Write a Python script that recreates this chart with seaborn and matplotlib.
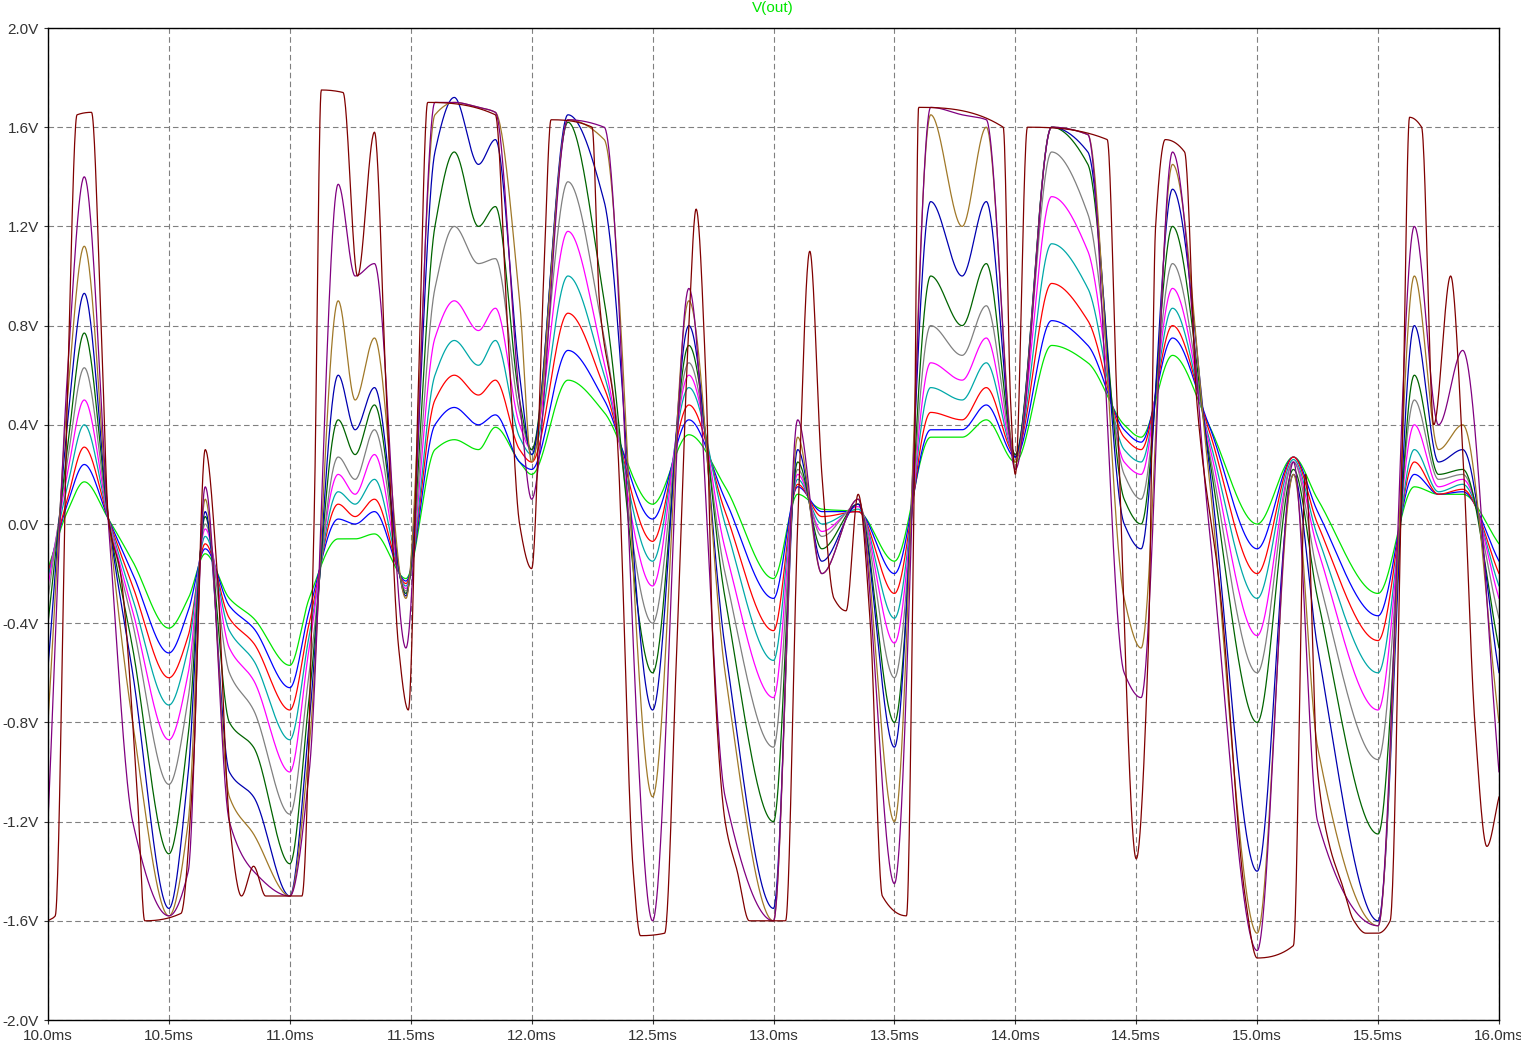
import numpy as np
import pandas as pd
import matplotlib
matplotlib.use("Agg")
import matplotlib.pyplot as plt
import seaborn as sns
from matplotlib.ticker import FuncFormatter

T = [10.0,10.08,10.15,10.25,10.35,10.5,10.58,10.65,10.75,10.85,11.0,11.08,11.2,11.27,11.35,11.48,11.6,11.68,11.78,11.85,11.95,12.0,12.15,12.3,12.5,12.65,12.8,13.0,13.1,13.2,13.35,13.5,13.65,13.78,13.88,14.0,14.15,14.3,14.45,14.52,14.65,14.8,15.0,15.15,15.25,15.5,15.65,15.75,15.85,16.0]

green   = [-0.18,0.05,0.17,0.02,-0.15,-0.42,-0.30,-0.12,-0.30,-0.38,-0.57,-0.30,-0.06,-0.06,-0.04,-0.22,0.30,0.34,0.30,0.39,0.25,0.20,0.58,0.45,0.08,0.36,0.15,-0.22,0.12,0.06,0.05,-0.15,0.35,0.35,0.42,0.25,0.72,0.65,0.40,0.35,0.68,0.40,0.00,0.27,0.10,-0.28,0.15,0.12,0.12,-0.08]
blue1   = [-0.20,0.08,0.24,0.02,-0.20,-0.52,-0.35,-0.10,-0.33,-0.42,-0.66,-0.35,0.02,0.00,0.05,-0.23,0.40,0.47,0.40,0.44,0.25,0.22,0.70,0.50,0.02,0.42,0.10,-0.30,0.15,0.05,0.05,-0.20,0.38,0.38,0.48,0.27,0.82,0.72,0.38,0.33,0.75,0.40,-0.10,0.27,0.05,-0.37,0.20,0.12,0.13,-0.15]
red     = [-0.20,0.10,0.31,0.02,-0.25,-0.62,-0.45,-0.08,-0.38,-0.48,-0.75,-0.40,0.08,0.03,0.10,-0.24,0.50,0.60,0.52,0.58,0.30,0.25,0.85,0.55,-0.07,0.48,0.05,-0.43,0.16,0.03,0.05,-0.28,0.45,0.42,0.55,0.28,0.97,0.82,0.35,0.30,0.80,0.38,-0.20,0.27,0.00,-0.47,0.25,0.12,0.14,-0.20]
cyan    = [-0.22,0.15,0.40,0.02,-0.30,-0.73,-0.50,-0.05,-0.43,-0.55,-0.87,-0.45,0.13,0.08,0.18,-0.25,0.60,0.74,0.64,0.74,0.35,0.28,1.00,0.60,-0.15,0.55,0.00,-0.55,0.18,0.00,0.06,-0.38,0.55,0.50,0.65,0.28,1.13,0.95,0.30,0.25,0.87,0.35,-0.30,0.26,-0.05,-0.60,0.30,0.13,0.16,-0.25]
magenta = [-0.25,0.20,0.50,0.02,-0.35,-0.87,-0.60,-0.02,-0.50,-0.63,-1.00,-0.50,0.20,0.12,0.28,-0.26,0.75,0.90,0.78,0.87,0.40,0.30,1.18,0.65,-0.25,0.60,-0.10,-0.70,0.20,-0.03,0.07,-0.48,0.65,0.58,0.75,0.28,1.32,1.10,0.25,0.20,0.95,0.33,-0.45,0.25,-0.10,-0.75,0.40,0.15,0.18,-0.30]
gray    = [-0.30,0.25,0.63,0.02,-0.40,-1.05,-0.70,0.00,-0.60,-0.75,-1.17,-0.60,0.27,0.18,0.38,-0.27,0.95,1.20,1.05,1.07,0.45,0.30,1.38,0.75,-0.40,0.65,-0.20,-0.90,0.22,-0.05,0.08,-0.62,0.80,0.68,0.88,0.28,1.50,1.25,0.20,0.10,1.05,0.30,-0.60,0.25,-0.20,-0.95,0.50,0.18,0.20,-0.38]
dkgreen = [-0.40,0.30,0.77,0.02,-0.50,-1.33,-0.85,0.03,-0.80,-0.90,-1.37,-0.70,0.42,0.28,0.48,-0.28,1.20,1.50,1.20,1.28,0.50,0.30,1.62,0.90,-0.60,0.72,-0.30,-1.20,0.25,-0.10,0.08,-0.80,1.00,0.80,1.05,0.28,1.60,1.45,0.10,0.00,1.20,0.28,-0.80,0.22,-0.30,-1.25,0.60,0.20,0.22,-0.50]
blue2   = [-0.58,0.40,0.93,0.02,-0.60,-1.55,-1.00,0.05,-1.00,-1.10,-1.50,-0.80,0.60,0.38,0.55,-0.29,1.50,1.72,1.45,1.55,0.60,0.28,1.65,1.30,-0.75,0.80,-0.50,-1.55,0.30,-0.15,0.08,-0.90,1.30,1.00,1.30,0.27,1.60,1.50,0.00,-0.10,1.35,0.25,-1.40,0.20,-0.50,-1.60,0.80,0.25,0.30,-0.60]
olive   = [-0.80,0.50,1.12,0.02,-0.80,-1.58,-1.20,0.10,-1.10,-1.25,-1.50,-0.90,0.90,0.50,0.75,-0.30,1.65,1.70,1.68,1.66,0.90,0.25,1.63,1.55,-1.10,0.90,-0.60,-1.60,0.35,-0.20,0.10,-1.20,1.65,1.20,1.60,0.25,1.60,1.57,-0.30,-0.50,1.45,0.20,-1.65,0.20,-0.90,-1.62,1.00,0.30,0.40,-0.80]
purple  = [-1.20,0.60,1.40,0.00,-1.20,-1.58,-1.40,0.15,-1.20,-1.40,-1.50,-1.00,1.37,1.00,1.05,-0.50,1.70,1.70,1.68,1.66,0.50,0.10,1.63,1.60,-1.60,0.95,-1.10,-1.60,0.42,-0.20,0.10,-1.45,1.68,1.65,1.63,0.22,1.60,1.57,-0.60,-0.70,1.50,0.00,-1.72,0.25,-1.20,-1.62,1.20,0.40,0.70,-1.00]

maroon_t = [10.0,10.03,10.08,10.12,10.18,10.22,10.25,10.3,10.37,10.4,10.55,10.6,10.65,10.7,10.75,10.8,10.85,10.9,11.05,11.1,11.13,11.22,11.28,11.35,11.4,11.45,11.49,11.53,11.57,11.85,11.9,11.95,12.0,12.05,12.08,12.25,12.28,12.35,12.42,12.45,12.55,12.6,12.65,12.68,12.72,12.75,12.8,12.85,12.9,13.05,13.1,13.15,13.2,13.25,13.3,13.35,13.4,13.45,13.55,13.58,13.6,13.95,13.98,14.0,14.05,14.38,14.42,14.5,14.55,14.58,14.62,14.7,14.75,14.85,14.95,15.0,15.15,15.2,15.25,15.3,15.35,15.4,15.45,15.5,15.55,15.6,15.63,15.68,15.73,15.8,15.85,15.9,15.95,16.0]
maroon_v = [-1.6,-1.58,0.5,1.65,1.66,0.8,0.02,-0.2,-1.1,-1.6,-1.57,-1.0,0.3,-0.2,-1.2,-1.5,-1.38,-1.5,-1.5,0.0,1.75,1.74,1.0,1.58,0.5,-0.5,-0.75,0.5,1.7,1.65,0.8,0.0,-0.18,1.0,1.63,1.6,0.9,0.4,-1.4,-1.66,-1.65,-0.5,0.8,1.27,0.6,-0.5,-1.2,-1.4,-1.6,-1.6,0.0,1.1,0.2,-0.3,-0.35,0.12,-0.4,-1.5,-1.58,0.0,1.68,1.6,0.5,0.2,1.6,1.55,0.5,-1.35,-0.5,1.2,1.55,1.5,0.5,-0.3,-1.5,-1.75,-1.7,0.2,-1.0,-1.3,-1.45,-1.6,-1.65,-1.65,-1.6,0.3,1.64,1.6,0.4,1.0,0.3,-0.8,-1.3,-1.1]

series = [("green", green, "#00e600"), ("blue1", blue1, "#0000ff"), ("red", red, "#ff0000"),
          ("cyan", cyan, "#00a8a8"), ("magenta", magenta, "#ff00ff"), ("gray", gray, "#808080"),
          ("dkgreen", dkgreen, "#006400"), ("blue2", blue2, "#0000b0"), ("olive", olive, "#a07828"),
          ("purple", purple, "#800080")]

def pchip(x, y, xn):
    x = np.asarray(x, float); y = np.asarray(y, float)
    h = np.diff(x); d = np.diff(y) / h
    m = np.zeros_like(y)
    for k in range(1, len(y) - 1):
        if d[k-1] * d[k] > 0:
            w1 = 2*h[k] + h[k-1]; w2 = h[k] + 2*h[k-1]
            m[k] = (w1 + w2) / (w1/d[k-1] + w2/d[k])
    m[0] = d[0]; m[-1] = d[-1]
    i = np.clip(np.searchsorted(x, xn) - 1, 0, len(x) - 2)
    t = (xn - x[i]) / h[i]
    h00 = 2*t**3 - 3*t**2 + 1; h10 = t**3 - 2*t**2 + t
    h01 = -2*t**3 + 3*t**2; h11 = t**3 - t**2
    return h00*y[i] + h10*h[i]*m[i] + h01*y[i+1] + h11*h[i]*m[i+1]

xs = np.linspace(10, 16, 3000)
frames = []
for name, vals, c in series:
    frames.append(pd.DataFrame({"t": xs, "v": pchip(T, vals, xs), "s": name}))
frames.append(pd.DataFrame({"t": xs, "v": pchip(maroon_t, maroon_v, xs), "s": "maroon"}))
df = pd.concat(frames)
palette = {n: c for n, _, c in series}
palette["maroon"] = "#800000"

sns.set_style("white")
plt.rcParams['font.family'] = ['Liberation Sans', 'DejaVu Sans']
fig = plt.figure(figsize=(15.21, 10.51), dpi=100)
ax = fig.add_axes([48/1521, 1-1020/1051, 1451/1521, 992/1051])
sns.lineplot(data=df, x="t", y="v", hue="s", palette=palette, estimator=None, sort=False,
             legend=False, linewidth=0.9, ax=ax)
ax.set_xlim(10, 16); ax.set_ylim(-2, 2)
ax.set_xticks(np.arange(10, 16.01, 0.5)); ax.set_yticks(np.arange(-2, 2.01, 0.4))
ax.xaxis.set_major_formatter(FuncFormatter(lambda v, p: f"{v:.1f}ms"))
ax.yaxis.set_major_formatter(FuncFormatter(lambda v, p: f"{(0.0 if abs(v) < 1e-9 else v):.1f}V"))
ax.grid(True, color="#808080", linestyle=(0, (5, 3)), linewidth=0.8)
for s in ax.spines.values():
    s.set_color("black"); s.set_linewidth(1)
ax.tick_params(labelsize=11, colors="#333333", length=3, direction="out", left=True, bottom=True)
ax.set_xlabel(""); ax.set_ylabel("")
fig.text(773/1521, 1-8/1051, "V(out)", color="#00e600", ha="center", va="center", fontsize=11)
fig.savefig("out.png", dpi=100)
